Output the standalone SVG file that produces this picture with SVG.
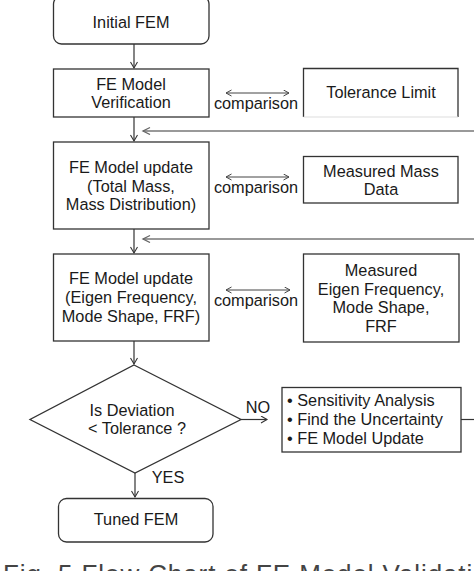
<svg xmlns="http://www.w3.org/2000/svg" width="474" height="571" viewBox="0 0 474 571">
<style>
  text { font-family: "Liberation Sans", Arial, sans-serif; font-size: 16.3px; fill: #1a1a1a; text-anchor: middle; }
  .box { fill: #fff; stroke: #333; stroke-width: 1.3; }
  .ln { fill: none; stroke: #333; stroke-width: 1.2; }
  .fb { fill: none; stroke: #777; stroke-width: 1.6; }
  .cmp { fill: none; stroke: #444; stroke-width: 1; }
  .left { text-anchor: start; }
  .cap { font-size: 26px; fill: #444; text-anchor: start; }
</style>
<defs>
  <marker id="ah" markerWidth="10" markerHeight="10" refX="7" refY="4" orient="auto" markerUnits="userSpaceOnUse">
    <path d="M1,0.5 L7,4 L1,7.5" fill="none" stroke="#333" stroke-width="1.1"/>
  </marker>
  <marker id="ahg" markerWidth="12" markerHeight="10" refX="8" refY="4" orient="auto" markerUnits="userSpaceOnUse">
    <path d="M1,0.5 L8,4 L1,7.5" fill="none" stroke="#666" stroke-width="1.3"/>
  </marker>
  <marker id="ac" markerWidth="10" markerHeight="8" refX="6" refY="3.5" orient="auto-start-reverse" markerUnits="userSpaceOnUse">
    <path d="M0.5,0.5 L6,3.5 L0.5,6.5" fill="none" stroke="#444" stroke-width="1"/>
  </marker>
</defs>

<g id="connectors">
  <line class="ln" x1="134" y1="44" x2="134" y2="68" marker-end="url(#ah)"/>
  <line class="ln" x1="134" y1="117" x2="134" y2="141" marker-end="url(#ah)"/>
  <line class="ln" x1="134" y1="229" x2="134" y2="253" marker-end="url(#ah)"/>
  <line class="ln" x1="134" y1="341" x2="134" y2="364" marker-end="url(#ah)"/>
  <line class="ln" x1="135" y1="473" x2="135" y2="497" marker-end="url(#ah)"/>
  <line class="ln" x1="241" y1="419.5" x2="267" y2="419.5" marker-end="url(#ah)"/>
  <line class="ln" x1="461" y1="419.5" x2="474" y2="419.5"/>
  <line class="fb" x1="474" y1="131" x2="143" y2="131" marker-end="url(#ahg)"/>
  <line class="fb" x1="474" y1="239" x2="143" y2="239" marker-end="url(#ahg)"/>
  <line class="cmp" x1="226" y1="93" x2="289" y2="93" marker-start="url(#ac)" marker-end="url(#ac)"/>
  <line class="cmp" x1="226" y1="177" x2="289" y2="177" marker-start="url(#ac)" marker-end="url(#ac)"/>
  <line class="cmp" x1="226" y1="290" x2="290" y2="290" marker-start="url(#ac)" marker-end="url(#ac)"/>
  <text x="256" y="109">comparison</text>
  <text x="256" y="193">comparison</text>
  <text x="256" y="306">comparison</text>
  <text x="258" y="413">NO</text>
  <text x="168" y="483">YES</text>
</g>

<g id="initial-fem">
  <rect class="box" x="53.5" y="-4" width="155.5" height="48" rx="8"/>
  <text x="131" y="28">Initial FEM</text>
</g>

<g id="fe-model-verification">
  <rect class="box" x="53.5" y="69" width="155.5" height="48"/>
  <text x="131" y="90">FE Model</text>
  <text x="131" y="108">Verification</text>
</g>

<g id="tolerance-limit">
  <path class="box" d="M303.5,117 V68.5 H458 V117"/>
  <line x1="303.5" y1="117" x2="458" y2="117" stroke="#ddd" stroke-width="1"/>
  <text x="381" y="98">Tolerance Limit</text>
</g>

<g id="fe-model-update-mass">
  <rect class="box" x="53.5" y="142" width="155.5" height="87"/>
  <text x="131" y="173">FE Model update</text>
  <text x="131" y="191.5">(Total Mass,</text>
  <text x="131" y="210">Mass Distribution)</text>
</g>

<g id="measured-mass-data">
  <rect class="box" x="303.5" y="156.5" width="154.5" height="46.5"/>
  <text x="381" y="176.5">Measured Mass</text>
  <text x="381" y="195">Data</text>
</g>

<g id="fe-model-update-eigen">
  <rect class="box" x="53.5" y="254" width="155.5" height="87"/>
  <text x="131" y="284">FE Model update</text>
  <text x="131" y="302.5">(Eigen Frequency,</text>
  <text x="131" y="321.5">Mode Shape, FRF)</text>
</g>

<g id="measured-eigen">
  <rect class="box" x="303.5" y="254" width="155.5" height="88"/>
  <text x="381" y="276">Measured</text>
  <text x="381" y="295">Eigen Frequency,</text>
  <text x="381" y="313">Mode Shape,</text>
  <text x="381" y="331.5">FRF</text>
</g>

<g id="decision">
  <polygon class="box" points="134,365 241,419.5 135,473 30,419.5"/>
  <text x="132" y="415.5">Is Deviation</text>
  <text x="137" y="434">&lt; Tolerance ?</text>
</g>

<g id="update-actions">
  <rect class="box" x="282" y="387.5" width="179" height="64.5"/>
  <text class="left" x="287" y="406">• Sensitivity Analysis</text>
  <text class="left" x="287" y="425">• Find the Uncertainty</text>
  <text class="left" x="287" y="443.5">• FE Model Update</text>
</g>

<g id="tuned-fem">
  <rect class="box" x="58.5" y="498.5" width="154.5" height="43.5" rx="8"/>
  <text x="136" y="525">Tuned FEM</text>
</g>

<text class="cap" x="3" y="583" textLength="500" lengthAdjust="spacing">Fig. 5  Flow Chart of FE Model Validation</text>
</svg>
